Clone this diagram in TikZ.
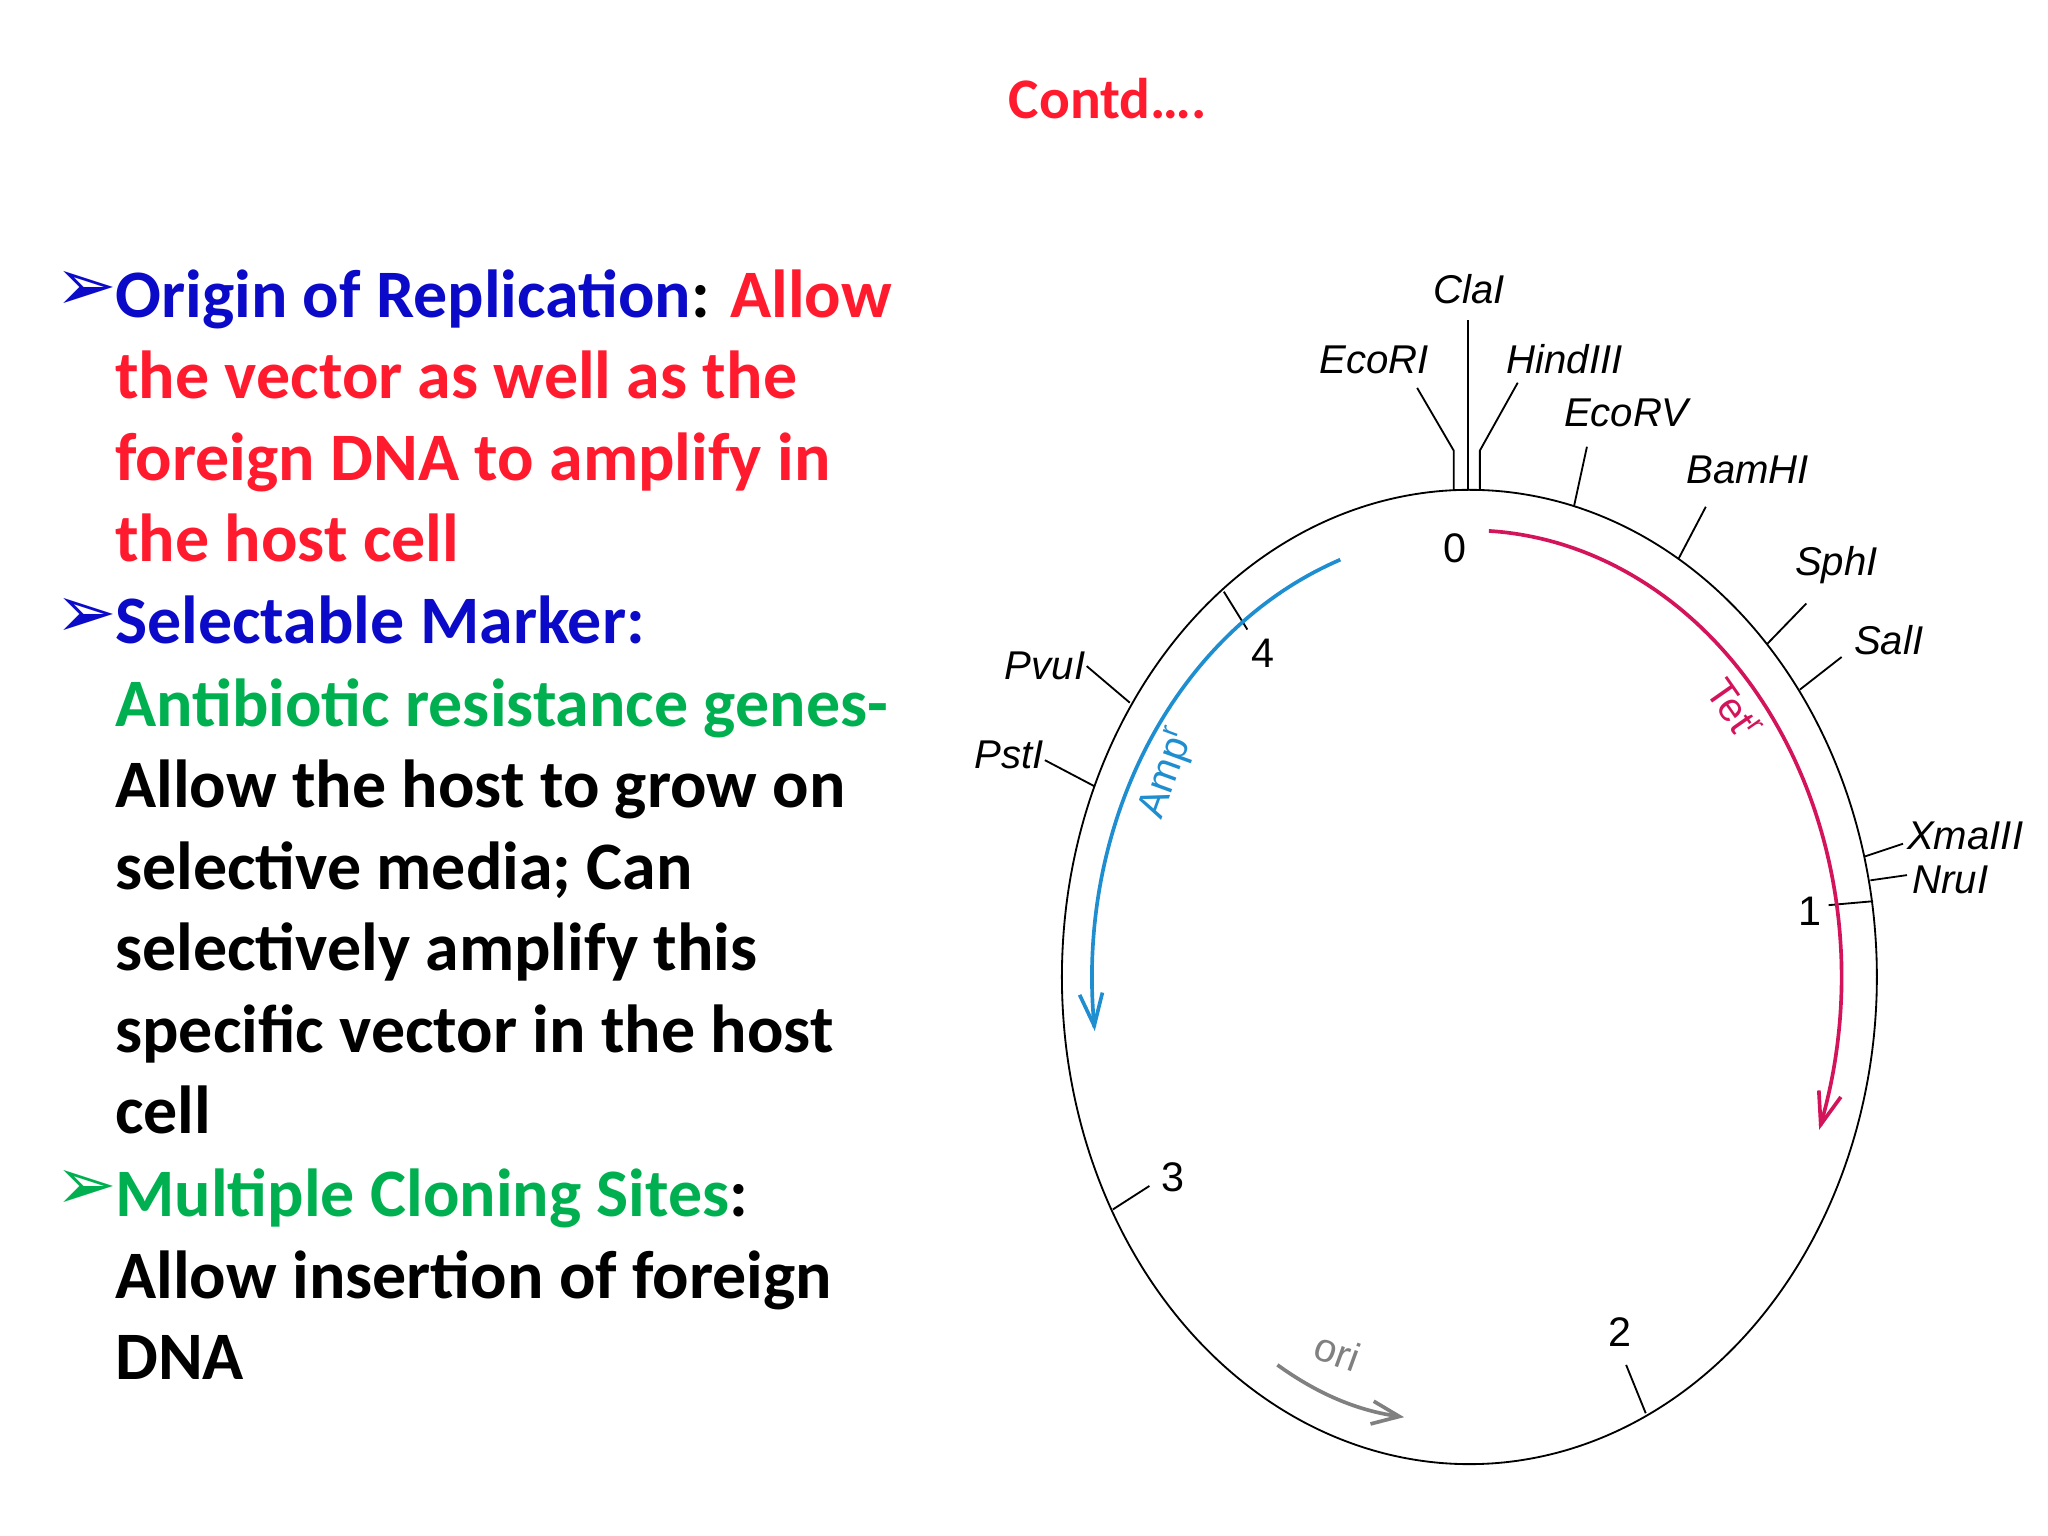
\documentclass[tikz,border=0pt]{standalone}
\usepackage{fontspec}
\usetikzlibrary{arrows.meta}
\setmainfont{Carlito}
\newfontfamily\lab{Liberation Sans}
\newfontfamily\sym{DejaVu Sans}
\definecolor{cblue}{HTML}{0A0AC8}
\definecolor{cred}{HTML}{FF1A2E}
\definecolor{cgreen}{HTML}{00B050}
\definecolor{tet}{HTML}{D4145A}
\definecolor{amp}{HTML}{1E8ED0}
\begin{document}
\begin{tikzpicture}[x=0.02cm,y=-0.02cm,
  txt/.style={anchor=base west,inner sep=0,font=\fontsize{29.6}{34}\selectfont\bfseries},
  bul/.style={anchor=base west,inner sep=0,font=\sym\fontsize{32}{34}\selectfont},
  lbl/.style={inner sep=1pt,font=\lab\itshape\fontsize{17.5}{20}\selectfont},
  num/.style={inner sep=1pt,font=\lab\fontsize{18}{22}\selectfont},
  tick/.style={black,line width=0.8pt}]
\useasboundingbox (0,0) rectangle (1568,1176);
\node[anchor=base,font=\fontsize{25}{28}\selectfont\bfseries,text=cred] (title) at (848,91) {Contd….};
% left text
\node[bul,text=cblue] (b1) at (42,238) {➢};
\node[bul,text=cblue] (b2) at (42,488) {➢};
\node[bul,text=cgreen] (b3) at (42,926) {➢};
\node[txt] (l1) at (88,243) {\textcolor{cblue}{Origin of Replication}: \textcolor{cred}{Allow}};
\node[txt,text=cred] (l2) at (88,305) {the vector as well as the};
\node[txt,text=cred] (l3) at (88,368) {foreign DNA to amplify in};
\node[txt,text=cred] (l4) at (88,430) {the host cell};
\node[txt,text=cblue] (l5) at (88,493) {Selectable Marker:};
\node[txt,text=cgreen] (l6) at (88,556) {Antibiotic resistance genes-};
\node[txt] (l7) at (88,618) {Allow the host to grow on};
\node[txt] (l8) at (88,681) {selective media; Can};
\node[txt] (l9) at (88,743) {selectively amplify this};
\node[txt] (l10) at (88,806) {specific vector in the host};
\node[txt] (l11) at (88,868) {cell};
\node[txt] (l12) at (88,931) {\textcolor{cgreen}{Multiple Cloning Sites}:};
\node[txt] (l13) at (88,994) {Allow insertion of foreign};
\node[txt] (l14) at (88,1056) {DNA};
% plasmid
\draw[line width=0.8pt] plot[domain=0:360,samples=200,smooth] ({1125+312*cos(\x)},{748-373*sin(\x)});
% site ticks
\coordinate (e0) at (1113,375); \coordinate (e1) at (1113,345);
\draw[tick] (e0)--(e1)--(1085,297) coordinate (e2);
\node[lbl,anchor=south] (ecori) at (1052,288) {EcoRI};
\draw[tick] (1124,375) coordinate (c0) -- (1124,245) coordinate (c1);
\node[lbl,anchor=south] (clai) at (1125,235) {ClaI};
\draw[tick] (1133,375) coordinate (h0)--(1133,345)--(1162,293) coordinate (h1);
\node[lbl,anchor=south] (hind) at (1198,288) {HindIII};
\draw[tick] (1205,388) coordinate (v0)--(1215,342) coordinate (v1);
\node[lbl] (ecorv) at (1245,316) {EcoRV};
\draw[tick] (1285,428) coordinate (bm0)--(1306,388) coordinate (bm1);
\node[lbl] (bam) at (1338,360) {BamHI};
\draw[tick] (1353,493) coordinate (s0)--(1383,462) coordinate (s1);
\node[lbl] (sph) at (1406,433) {SphI};
\draw[tick] (1378,528) coordinate (sa0)--(1410,503) coordinate (sa1);
\node[lbl] (sal) at (1446,490) {SalI};
\draw[tick] (1427,656) coordinate (x0)--(1457,646) coordinate (x1);
\node[lbl,anchor=west] (xma) at (1458,640) {XmaIII};
\draw[tick] (1432,674) coordinate (n0)--(1460,670) coordinate (n1);
\node[lbl,anchor=west] (nru) at (1462,674) {NruI};
\draw[tick] (865,538) coordinate (p0)--(832,510) coordinate (p1);
\node[lbl,anchor=east] (pvu) at (833,510) {PvuI};
\draw[tick] (838,602) coordinate (ps0)--(800,582) coordinate (ps1);
\node[lbl,anchor=east] (pst) at (801,578) {PstI};
% map numbers
\node[num] (n0l) at (1114,420) {0};
\draw[tick] (1400,693) coordinate (t1a)--(1434,690) coordinate (t1b);
\node[num] (n1l) at (1386,698) {1};
\draw[tick] (1260,1082) coordinate (t2a)--(1245,1045) coordinate (t2b);
\node[num] (n2l) at (1240,1020) {2};
\draw[tick] (852,926) coordinate (t3a)--(880,908) coordinate (t3b);
\node[num] (n3l) at (898,901) {3};
\draw[tick] (937,453) coordinate (t4a)--(955,482) coordinate (t4b);
\node[num] (n4l) at (967,500) {4};
% genes
\draw[tet,line width=1.6pt,-{Straight Barb[length=14pt,width=10pt]}] plot[domain=87:-20,samples=80,smooth] ({1125+285*cos(\x)},{748-342*sin(\x)});
\node[lbl,text=tet,rotate=-55,font=\lab\fontsize{17.5}{20}\selectfont] (tetl) at (1328,543) {Tet\textsuperscript{r}};
\draw[amp,line width=1.6pt,-{Straight Barb[length=14pt,width=10pt]}] plot[domain=110:187,samples=80,smooth] ({1125+289*cos(\x)},{748-340*sin(\x)});
\node[lbl,text=amp,rotate=70,font=\lab\fontsize{17.5}{20}\selectfont] (ampl) at (894,592) {Amp\textsuperscript{r}};
\draw[gray,line width=1.6pt,-{Straight Barb[length=12pt,width=10pt]}] (978,1045) coordinate (o0) .. controls (1010,1068) and (1040,1080) .. (1075,1085) coordinate (o1);
\node[lbl,text=gray,rotate=-20,font=\lab\fontsize{17.5}{20}\selectfont] (oril) at (1024,1035) {ori};
\end{tikzpicture}
\end{document}
